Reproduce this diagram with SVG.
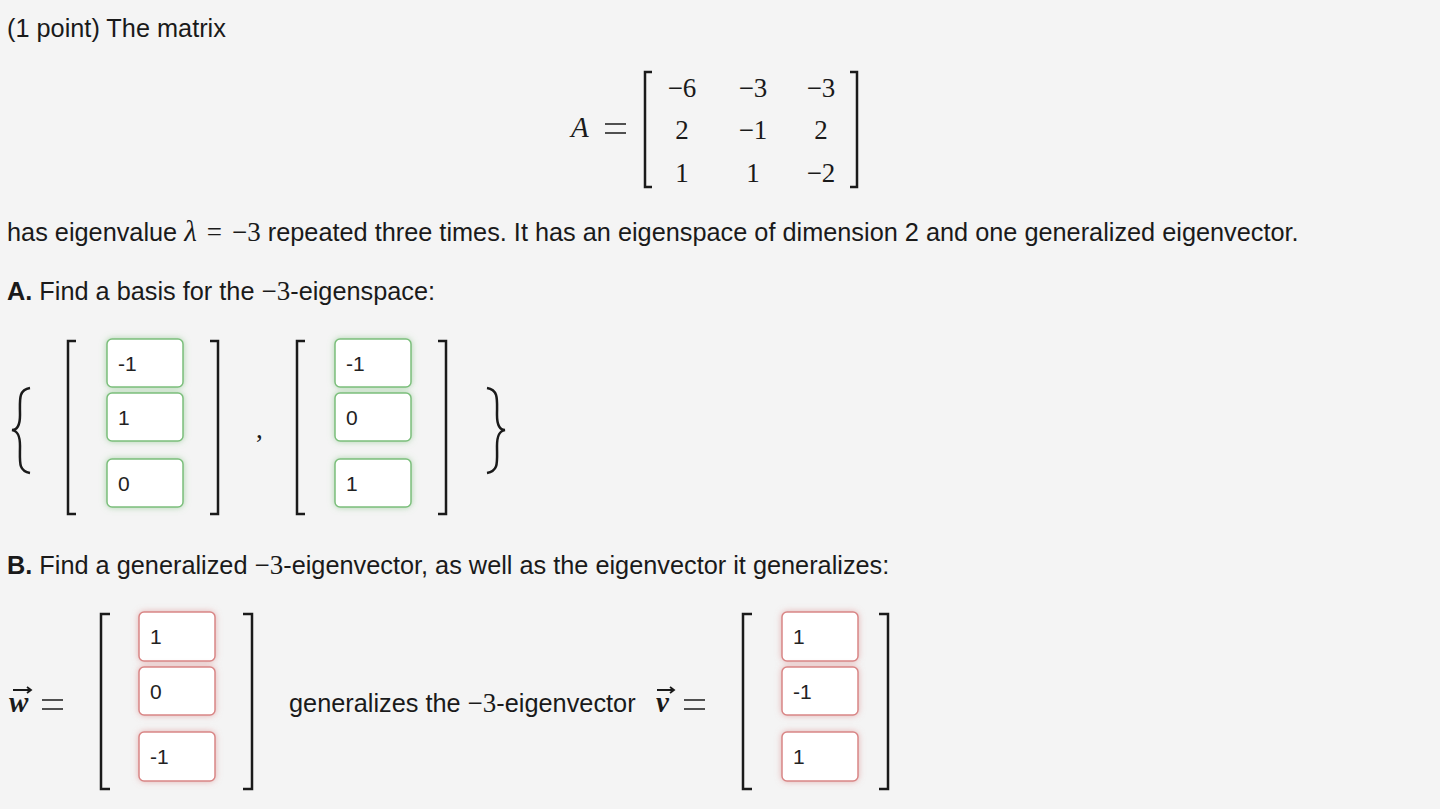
<svg xmlns="http://www.w3.org/2000/svg" width="1440" height="809" viewBox="0 0 1440 809">
<style>
.t{font-family:"Liberation Sans",Arial,sans-serif;font-size:25.3px;fill:#1a1a1a}
.m{font-family:"Liberation Serif","Times New Roman",serif;font-size:27px;fill:#1a1a1a}
.mi{font-family:"Liberation Serif",serif;font-size:29px;font-style:italic;fill:#1a1a1a}
.br{fill:none;stroke:#1a1a1a;stroke-width:2.5}
.g{fill:#fff;stroke:#7cbf7c;stroke-width:1.5;filter:url(#gg)}
.r{fill:#fff;stroke:#d98686;stroke-width:1.5;filter:url(#gr)}
.v{font-family:"Liberation Sans",Arial,sans-serif;font-size:21px;fill:#222}
</style>
<defs>
<filter id="gg" x="-20%" y="-30%" width="140%" height="160%"><feDropShadow dx="0" dy="0" stdDeviation="3" flood-color="#7cbf7c" flood-opacity="0.6"/></filter>
<filter id="gr" x="-20%" y="-30%" width="140%" height="160%"><feDropShadow dx="0" dy="0" stdDeviation="3" flood-color="#d98686" flood-opacity="0.6"/></filter>
</defs>
<rect width="1440" height="809" fill="#f4f4f4"/>
<text class="t" x="7" y="37">(1 point) The matrix</text>
<text class="mi" x="571" y="137">A</text>
<path d="M605 124H626M605 133H626" stroke="#1a1a1a" stroke-width="1.6"/>
<path class="br" d="M652 72H645V187H652M850 72H857V187H850"/>
<g class="m" text-anchor="middle">
<text x="682" y="97">−6</text><text x="753" y="97">−3</text><text x="821" y="97">−3</text>
<text x="682" y="139">2</text><text x="753" y="139">−1</text><text x="821" y="139">2</text>
<text x="682" y="182">1</text><text x="753" y="182">1</text><text x="821" y="182">−2</text>
</g>
<text class="t" x="7" y="241">has eigenvalue <tspan class="mi">λ</tspan><tspan class="m" font-size="29" dx="10">=</tspan><tspan class="m" font-size="29" dx="10">−3</tspan> repeated three times. It has an eigenspace of dimension 2 and one generalized eigenvector.</text>
<text class="t" x="7" y="300"><tspan font-weight="bold">A.</tspan> Find a basis for the <tspan class="m" font-size="29">−3</tspan>-eigenspace:</text>
<path class="br" d="M30 388C18 390 20 400 20 415C20 425 18 430 12 430C18 431 20 436 20 446C20 462 18 471 30 473"/>
<path class="br" d="M487 388C499 390 497 400 497 415C497 425 499 430 505 430C499 431 497 436 497 446C497 462 499 471 487 473"/>
<path class="br" d="M76 341H68V514H76M210 341H218V514H210M305 341H297V514H305M438 341H446V514H438"/>
<text class="m" x="256" y="438">,</text>
<g id="a1"><rect class="g" x="107" y="339" width="76" height="48" rx="5"/><text class="v" x="118" y="371">-1</text></g>
<g id="a2"><rect class="g" x="107" y="393" width="76" height="48" rx="5"/><text class="v" x="118" y="425">1</text></g>
<g id="a3"><rect class="g" x="107" y="459" width="76" height="48" rx="5"/><text class="v" x="118" y="491">0</text></g>
<g id="b1"><rect class="g" x="335" y="339" width="76" height="48" rx="5"/><text class="v" x="346" y="371">-1</text></g>
<g id="b2"><rect class="g" x="335" y="393" width="76" height="48" rx="5"/><text class="v" x="346" y="425">0</text></g>
<g id="b3"><rect class="g" x="335" y="459" width="76" height="48" rx="5"/><text class="v" x="346" y="491">1</text></g>
<text class="t" x="7" y="574"><tspan font-weight="bold">B.</tspan> Find a generalized <tspan class="m" font-size="29">−3</tspan>-eigenvector, as well as the eigenvector it generalizes:</text>
<text class="mi" x="9" y="712" font-weight="bold">w</text><path d="M13 690H31M27 687L31 690L27 693" fill="none" stroke="#1a1a1a" stroke-width="1.8"/>
<path d="M42 700H63M42 709H63" stroke="#1a1a1a" stroke-width="1.6"/>
<path class="br" d="M110 614H101V789H110M243 614H252V789H243M752 614H743V789H752M879 614H888V789H879"/>
<g id="w1"><rect class="r" x="139" y="612" width="76" height="49" rx="5"/><text class="v" x="150" y="644">1</text></g>
<g id="w2"><rect class="r" x="139" y="667" width="76" height="48" rx="5"/><text class="v" x="150" y="699">0</text></g>
<g id="w3"><rect class="r" x="139" y="732" width="76" height="49" rx="5"/><text class="v" x="150" y="764">-1</text></g>
<text class="t" x="289" y="712">generalizes the <tspan class="m" font-size="29">−3</tspan>-eigenvector</text>
<text class="mi" x="656" y="712" font-weight="bold">v</text>
<path d="M657 690H674M670 687L674 690L670 693" fill="none" stroke="#1a1a1a" stroke-width="1.8"/>
<path d="M684 700H705M684 709H705" stroke="#1a1a1a" stroke-width="1.6"/>
<g id="v1"><rect class="r" x="782" y="612" width="76" height="49" rx="5"/><text class="v" x="793" y="644">1</text></g>
<g id="v2"><rect class="r" x="782" y="667" width="76" height="48" rx="5"/><text class="v" x="793" y="699">-1</text></g>
<g id="v3"><rect class="r" x="782" y="732" width="76" height="49" rx="5"/><text class="v" x="793" y="764">1</text></g>
</svg>
